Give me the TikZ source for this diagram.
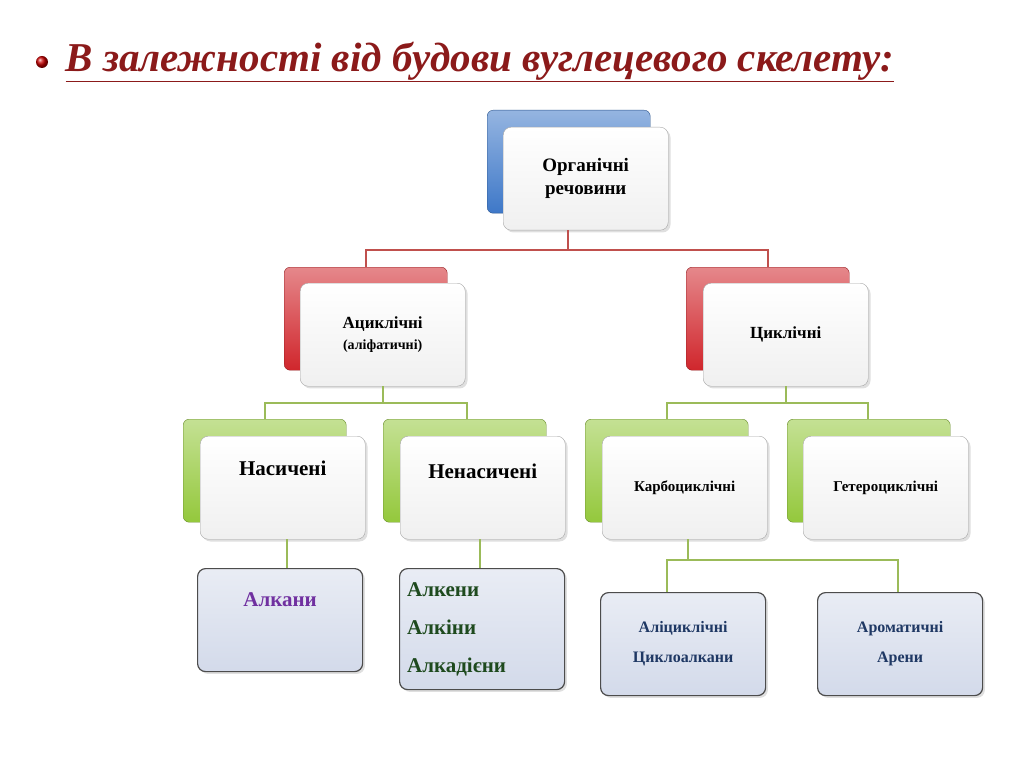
\documentclass[tikz,border=0pt]{standalone}
\usepackage{fontspec}
\setmainfont{Liberation Serif}
\usetikzlibrary{positioning,shadows}
\definecolor{titlered}{HTML}{8B1A1A}
\definecolor{topblue}{HTML}{3E78C8}
\definecolor{midred}{HTML}{D0262C}
\definecolor{lowgreen}{HTML}{94C83C}
\definecolor{linkred}{HTML}{C0504D}
\definecolor{linkgreen}{HTML}{9BBB59}
\definecolor{leafblue}{HTML}{D3DAEA}
\definecolor{leafpurple}{HTML}{7030A0}
\definecolor{leafgreen}{HTML}{1E4A1E}
\definecolor{leafnavy}{HTML}{1F3864}
\tikzset{
  backbox/.style={draw=#1!70!black, rounded corners=6pt, top color=#1!55, bottom color=#1,
    minimum width=163pt, minimum height=103pt, inner sep=0pt, anchor=north west},
  frontbox/.style={draw=gray!70, rounded corners=8pt, top color=white, bottom color=gray!12,
    minimum width=165pt, minimum height=103pt, inner sep=2pt, anchor=north west,
    align=center, font=\bfseries, drop shadow={opacity=0.25}},
  leafbox/.style={draw=gray!60!black, line width=1.2pt, rounded corners=8pt, top color=leafblue!50, bottom color=leafblue,
    minimum width=165pt, minimum height=103pt, anchor=north west, align=center, font=\bfseries, drop shadow={opacity=0.25}},
  link/.style={line width=2pt, draw=#1}
}
\begin{document}
\begin{tikzpicture}[x=1pt,y=-1pt]
	\useasboundingbox (0,0) rectangle (1024,767);
	% title
	\shade[ball color=red!80!black] (42,62) circle (6pt);
	\node[anchor=west, text=titlered, font=\fontsize{41}{46}\selectfont\bfseries\itshape] (title) at (62,62) {\underline{В залежності від будови вуглецевого скелету:}};

	% level 1
	\node[backbox=topblue] (orgb) at (487,110) {};
	\node[frontbox, font=\fontsize{19}{23}\selectfont\bfseries] (org) at (503,127) {Органічні\\речовини};

	% level 2
	\node[backbox=midred] (acyb) at (284,267) {};
	\node[frontbox, font=\fontsize{17}{21}\selectfont\bfseries] (acy) at (300,283) {Ациклічні\\{\fontsize{14}{18}\selectfont (аліфатичні)}};
	\node[backbox=midred] (cycb) at (686,267) {};
	\node[frontbox, font=\fontsize{17}{21}\selectfont\bfseries] (cyc) at (703,283) {Циклічні};

	% level 3
	\node[backbox=lowgreen] (satb) at (183,419) {};
	\node[frontbox, font=\fontsize{21}{25}\selectfont\bfseries] (sat) at (200,436) {Насичені\\[14pt]};
	\node[backbox=lowgreen] (unsb) at (383,419) {};
	\node[frontbox, font=\fontsize{21}{25}\selectfont\bfseries] (uns) at (400,436) {Ненасичені\\[8pt]};
	\node[backbox=lowgreen] (carb) at (585,419) {};
	\node[frontbox, font=\fontsize{15}{18}\selectfont\bfseries] (car) at (602,436) {Карбоциклічні};
	\node[backbox=lowgreen] (hetb) at (787,419) {};
	\node[frontbox, font=\fontsize{15}{18}\selectfont\bfseries] (het) at (803,436) {Гетероциклічні};

	% level 4
	\node[leafbox, text=leafpurple, font=\fontsize{21}{25}\selectfont\bfseries] (alk) at (197,568) {Алкани\\[16pt]};
	\node[leafbox, minimum height=121pt, text=leafgreen, align=left, text width=150pt,
	  font=\fontsize{21}{38}\selectfont\bfseries] (unsat) at (399,568) {Алкени\\Алкіни\\Алкадієни};
	\node[leafbox, text=leafnavy, font=\fontsize{16}{30}\selectfont\bfseries] (ali) at (600,592) {Аліциклічні\\Циклоалкани};
	\node[leafbox, text=leafnavy, font=\fontsize{16}{30}\selectfont\bfseries] (aro) at (817,592) {Ароматичні\\Арени};

	% connectors
	\begin{scope}[on background layer/.try]
	\draw[link=linkred] (org.south -| 568,0) -- (568,250) -- (366,250) -- (acyb.north -| 366,0);
	\draw[link=linkred] (568,250) -- (768,250) -- (cycb.north -| 768,0);
	\draw[link=linkgreen] (acy.south) -- (acy.south |- 0,403) -- (265,403) -- (satb.north -| 265,0);
	\draw[link=linkgreen] (acy.south |- 0,403) -- (467,403) -- (unsb.north -| 467,0);
	\draw[link=linkgreen] (cyc.south) -- (cyc.south |- 0,403) -- (667,403) -- (carb.north -| 667,0);
	\draw[link=linkgreen] (cyc.south |- 0,403) -- (868,403) -- (hetb.north -| 868,0);
	\draw[link=linkgreen] (sat.south -| 287,0) -- (alk.north -| 287,0);
	\draw[link=linkgreen] (uns.south -| 480,0) -- (unsat.north -| 480,0);
	\draw[link=linkgreen] (car.south -| 688,0) -- (688,560) -- (667,560) -- (ali.north -| 667,0);
	\draw[link=linkgreen] (688,560) -- (898,560) -- (aro.north -| 898,0);
	\end{scope}
\end{tikzpicture}
\end{document}
